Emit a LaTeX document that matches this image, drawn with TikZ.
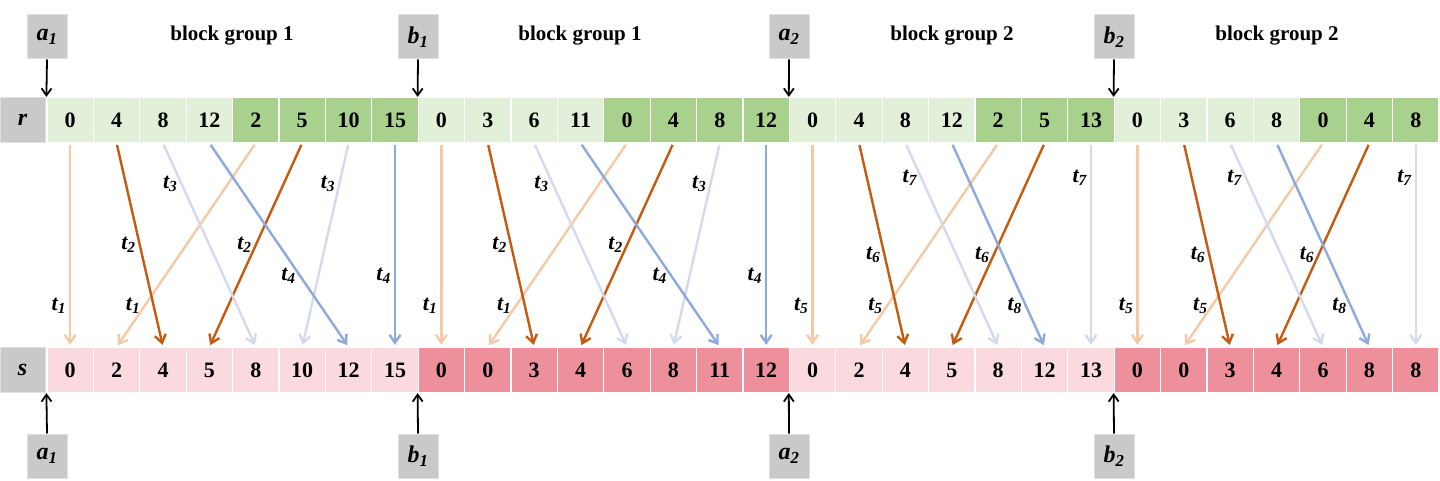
\documentclass[tikz,border=0pt]{standalone}
\usepackage{fontspec}
\setmainfont{Liberation Serif}
\usetikzlibrary{arrows.meta, positioning}
\definecolor{rlight}{HTML}{E2F0D9}
\definecolor{rdark}{HTML}{A9D18E}
\definecolor{slight}{HTML}{FADADF}
\definecolor{sdark}{HTML}{EE909B}
\definecolor{tag}{HTML}{C9C9C9}
\definecolor{lo}{HTML}{F4C9A6}
\definecolor{do}{HTML}{C55A11}
\definecolor{lb}{HTML}{D3DAEE}
\definecolor{db}{HTML}{8EA9DB}
\tikzset{
  cell/.style = {rectangle, minimum width=46.4pt, minimum height=45pt, draw=white, line width=1.2pt, inner sep=0pt, font=\fontsize{22}{22}\selectfont\bfseries},
  tag/.style = {rectangle, minimum width=40pt, minimum height=44pt, draw=black!12, line width=1pt, fill=tag, inner sep=0pt, font=\fontsize{24}{24}\selectfont\bfseries\itshape},
  title/.style = {font=\fontsize{21}{21}\selectfont\bfseries},
  lab/.style = {font=\fontsize{22}{22}\selectfont\bfseries\itshape, anchor=east, inner sep=3pt},
  map/.style = {line width=2.4pt, -{Straight Barb[length=8pt, width=11pt]}, shorten <=2pt, shorten >=2pt},
  pin/.style = {line width=1.8pt, -{Straight Barb[length=7pt, width=10pt]}}
}
\begin{document}
\begin{tikzpicture}[x=1pt, y=-1pt]
	\useasboundingbox (0,0) rectangle (1440,481);
	% row labels
	\node (rl) [tag, minimum width=45pt, minimum height=45pt] at (22.5,120) {r};
	\node (sl) [tag, minimum width=45pt, minimum height=45pt] at (22.5,370) {s};
	% r row
	\foreach \v/\f [count=\i from 0] in {0/rlight,4/rlight,8/rlight,12/rlight,2/rdark,5/rdark,10/rdark,15/rdark,
	    0/rlight,3/rlight,6/rlight,11/rlight,0/rdark,4/rdark,8/rdark,12/rdark,
	    0/rlight,4/rlight,8/rlight,12/rlight,2/rdark,5/rdark,13/rdark,
	    0/rlight,3/rlight,6/rlight,8/rlight,0/rdark,4/rdark,8/rdark}
	  \node (r\i) [cell, fill=\f] at (70.2+46.4*\i,120) {\v};
	% s row
	\foreach \v/\f [count=\i from 0] in {0/slight,2/slight,4/slight,5/slight,8/slight,10/slight,12/slight,15/slight,
	    0/sdark,0/sdark,3/sdark,4/sdark,6/sdark,8/sdark,11/sdark,12/sdark,
	    0/slight,2/slight,4/slight,5/slight,8/slight,12/slight,13/slight,
	    0/sdark,0/sdark,3/sdark,4/sdark,6/sdark,8/sdark,8/sdark}
	  \node (s\i) [cell, fill=\f] at (70.2+46.4*\i,370) {\v};
	% group titles
	\node [title] at (232,36) {block group 1};
	\node [title] at (580,36) {block group 1};
	\node [title] at (952,36) {block group 2};
	\node [title] at (1277,36) {block group 2};
	% pointers
	\foreach \n/\t/\j/\x/\c in {a1/a/1/47/0, b1/b/1/418/8, a2/a/2/789/16, b2/b/2/1114/23}{
	  \node (top\n) [tag] at (\x,37) {\t\textsubscript{\j}};
	  \node (bot\n) [tag] at (\x,456) {\t\textsubscript{\j}};
	  \draw [pin] (top\n.south) -- (r\c.north west);
	  \draw [pin] (bot\n.north) -- (s\c.south west);
	}
	% mappings
	\foreach \a/\b/\k/\c/\p in {0/0/1/lo/.8, 4/1/1/lo/.8, 1/2/2/do/.5, 5/3/2/do/.5, 2/4/3/lb/.2, 6/5/3/lb/.2, 3/6/4/db/.65, 7/7/4/db/.65,
	    8/8/1/lo/.8, 12/9/1/lo/.8, 9/10/2/do/.5, 13/11/2/do/.5, 10/12/3/lb/.2, 14/13/3/lb/.2, 11/14/4/db/.65, 15/15/4/db/.65,
	    16/16/5/lo/.8, 20/17/5/lo/.8, 17/18/6/do/.55, 21/19/6/do/.55, 18/20/7/lb/.17, 19/21/8/db/.8, 22/22/7/lb/.17,
	    23/23/5/lo/.8, 27/24/5/lo/.8, 24/25/6/do/.55, 28/26/6/do/.55, 25/27/7/lb/.17, 26/28/8/db/.8, 29/29/7/lb/.17}
	  \draw [map, \c] (r\a.south) -- node[lab, pos=\p, text=black] {t\textsubscript{\k}} (s\b.north);
\end{tikzpicture}
\end{document}
